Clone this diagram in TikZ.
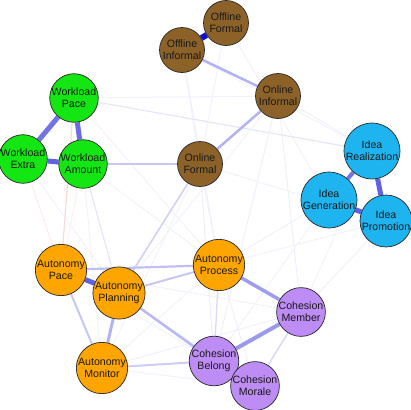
\documentclass[tikz,border=0pt]{standalone}
\usepackage{fontspec}
\setmainfont{Liberation Sans}
\usetikzlibrary{backgrounds}
\definecolor{pos}{RGB}{0,0,213}
\definecolor{neg}{RGB}{213,0,0}
\definecolor{cgreen}{RGB}{20,230,20}
\definecolor{cbrown}{RGB}{140,98,40}
\definecolor{cblue}{RGB}{30,180,240}
\definecolor{corange}{RGB}{255,165,0}
\definecolor{cpurple}{RGB}{190,140,245}
\tikzset{
  nd/.style={circle, minimum size=45pt, inner sep=0pt, draw=black!85, line width=0.7pt,
    font=\fontsize{10.6}{11.8}\selectfont, align=center, text=black!90},
}
\newcommand{\posedge}[4]{\draw[line width=#1, pos!#2!white] (#3) -- (#4);}
\newcommand{\negedge}[4]{\draw[line width=#1, neg!#2!white] (#3) -- (#4);}
\begin{document}
\begin{tikzpicture}[x=1pt,y=-1pt]
\useasboundingbox (0,0) rectangle (410,410);
% nodes
\node[nd, fill=cbrown] (OFF) at (226,23) {Offline\\Formal};
\node[nd, fill=cbrown] (OFI) at (182,50) {Offline\\Informal};
\node[nd, fill=cbrown] (ONI) at (278,96) {Online\\Informal};
\node[nd, fill=cbrown] (ONF) at (200,164) {Online\\Formal};
\node[nd, fill=cgreen] (WP) at (74,98) {Workload\\Pace};
\node[nd, fill=cgreen] (WE) at (23,159) {Workload\\Extra};
\node[nd, fill=cgreen] (WA) at (83,164) {Workload\\Amount};
\node[nd, fill=cblue] (IR) at (372,151) {Idea\\Realization};
\node[nd, fill=cblue] (IG) at (329,200) {Idea\\Generation};
\node[nd, fill=cblue] (IP) at (386,221) {Idea\\Promotion};
\node[nd, fill=corange] (AP) at (61,270) {Autonomy\\Pace};
\node[nd, fill=corange] (APL) at (119,293) {Autonomy\\Planning};
\node[nd, fill=corange] (APR) at (219,265) {Autonomy\\Process};
\node[nd, fill=corange] (AM) at (102,368) {Autonomy\\Monitor};
\node[nd, fill=cpurple] (CM) at (301,312) {Cohesion\\Member};
\node[nd, fill=cpurple] (CB) at (214,361) {Cohesion\\Belong};
\node[nd, fill=cpurple] (CMO) at (255,386) {Cohesion\\Morale};
\begin{pgfonlayer}{background}
% faint edges
\posedge{1}{6}{OFI}{ONF}
\posedge{1}{5}{OFI}{IR}
\posedge{1}{5}{OFF}{IG}
\posedge{1}{5}{OFF}{ONF}
\posedge{1}{5}{OFI}{APR}
\posedge{1.2}{10}{WP}{IR}
\posedge{1}{5}{WP}{ONI}
\posedge{1}{6}{ONI}{IR}
\posedge{1}{6}{ONI}{CB}
\posedge{1}{6}{ONI}{CM}
\posedge{1}{5}{ONI}{APL}
\posedge{1}{6}{ONF}{APR}
\posedge{1}{7}{ONF}{CB}
\posedge{1}{5}{ONF}{AM}
\posedge{1}{5}{ONF}{IP}
\posedge{1}{5}{WA}{AM}
\posedge{1}{5}{WE}{APL}
\posedge{1}{5}{WP}{APR}
\posedge{1}{5}{WA}{APR}
\posedge{1}{6}{IG}{APR}
\posedge{1}{5}{IG}{CB}
\posedge{1}{6}{IP}{CM}
\posedge{1}{5}{IR}{CM}
\posedge{1}{5}{IP}{APR}
\posedge{1}{5}{AP}{CM}
\posedge{1}{6}{AM}{CM}
\posedge{1}{5}{AP}{CB}
\posedge{1}{6}{APR}{CMO}
\posedge{1}{5}{APR}{AM}
\posedge{1}{6}{APL}{CMO}
\posedge{1}{5}{AM}{CMO}
\posedge{1.2}{10}{WA}{APL}
\negedge{1.2}{15}{WP}{AP}
\negedge{1}{8}{WE}{AP}
\negedge{1}{6}{WA}{AP}
% medium edges
\posedge{1.6}{18}{ONF}{APL}
\posedge{1.5}{15}{CM}{CMO}
\posedge{1.4}{14}{APR}{CB}
\posedge{2}{22}{WA}{ONF}
\posedge{2.5}{30}{OFI}{ONI}
\posedge{2.5}{30}{ONI}{ONF}
\posedge{2.2}{25}{AP}{APR}
\posedge{2}{22}{APL}{APR}
\posedge{2}{22}{AP}{AM}
\posedge{3}{30}{APL}{AM}
\posedge{2.5}{28}{APL}{CB}
\posedge{2}{20}{AM}{CB}
\posedge{3.5}{38}{APR}{CM}
\posedge{4}{40}{CM}{CB}
% strong edges
\posedge{6}{95}{OFF}{OFI}
\posedge{5}{55}{WP}{WE}
\posedge{5}{58}{WP}{WA}
\posedge{5}{62}{WE}{WA}
\posedge{4}{55}{IR}{IG}
\posedge{5}{62}{IR}{IP}
\posedge{5}{62}{IG}{IP}
\posedge{5}{62}{AP}{APL}
\posedge{3}{90}{CB}{CMO}
\end{pgfonlayer}
\end{tikzpicture}
\end{document}
